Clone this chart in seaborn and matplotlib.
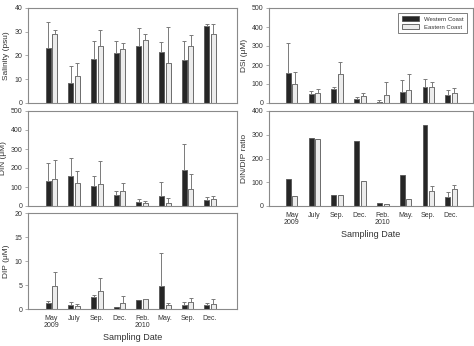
import numpy as np
import pandas as pd
import matplotlib
matplotlib.use("Agg")
import matplotlib.pyplot as plt
import seaborn as sns

dates = ["May\n2009", "July", "Sep.", "Dec.", "Feb.\n2010", "May.", "Sep.", "Dec."]
coasts = ["Western Coast", "Eastern Coast"]

sal_w = [23.0, 8.4, 18.5, 21.0, 23.8, 21.4, 18.3, 32.3]
sal_e = [29.0, 11.5, 24.2, 22.7, 26.6, 16.8, 24.0, 29.0]
sal_w_top = [34.0, 15.4, 25.9, 26.3, 31.5, 25.5, 25.9, 33.1]
sal_e_top = [30.8, 16.8, 30.8, 25.2, 29.0, 31.9, 28.7, 33.4]

din_w = [131, 158, 105, 58, 21, 54, 189, 32]
din_e = [140, 121, 118, 77, 16, 16, 88, 39]
din_w_top = [228, 253, 160, 81, 39, 128, 328, 47]
din_e_top = [240, 184, 239, 119, 25, 42, 168, 54]

dip_w = [1.2, 0.9, 2.5, 0.35, 1.9, 4.75, 0.9, 0.9]
dip_e = [4.7, 0.7, 3.75, 1.25, 2.0, 0.9, 1.4, 1.1]
dip_w_top = [1.6, 1.4, 3.0, np.nan, np.nan, 11.7, 1.45, 1.3]
dip_e_top = [7.7, 1.0, 6.5, 2.65, 2.1, 1.25, 2.35, 2.1]

dsi_w = [157, 47, 72, 23, 7, 58, 82, 42]
dsi_e = [100, 52, 154, 35, 42, 70, 86, 54]
dsi_w_top = [315, 63, 84, 33, 14, 122, 124, 68]
dsi_e_top = [161, 73, 215, 52, 108, 152, 112, 79]

ratio_w = [112, 285, 48, 275, 11, 129, 340, 39]
ratio_e = [44, 282, 46, 107, 8, 28, 63, 70]
ratio_w_top = [np.nan, np.nan, np.nan, np.nan, np.nan, np.nan, np.nan, 60]
ratio_e_top = [np.nan, np.nan, np.nan, np.nan, np.nan, np.nan, 86, 88]

sns.set_style("white")
plt.rcParams["font.family"] = ["Liberation Sans", "DejaVu Sans"]

W, H = 474, 346
fig = plt.figure(figsize=(W / 100, H / 100), dpi=100)

def rect(x0, y0, x1, y1):
    return [x0 / W, 1 - y1 / H, (x1 - x0) / W, (y1 - y0) / H]

txt = "#333333"
spine_c = "#8a8a8a"

def panel(box, w, e, wtop, etop, ylabel, yticks, xlim, show_x, legend=False):
    ax = fig.add_axes(rect(*box))
    df = pd.DataFrame({
        "date": list(range(len(dates))) * 2,
        "coast": [coasts[0]] * len(dates) + [coasts[1]] * len(dates),
        "value": list(w) + list(e),
    })
    sns.barplot(data=df, x="date", y="value", hue="coast", hue_order=coasts,
                palette=["#262626", "#ececec"], errorbar=None, width=0.58, gap=0.25,
                edgecolor="#555555", linewidth=0.6, ax=ax, legend=legend)
    for cont, tops in zip(ax.containers, [wtop, etop]):
        for bar, top in zip(cont, tops):
            if np.isnan(top):
                continue
            xc = bar.get_x() + bar.get_width() / 2
            hgt = bar.get_height()
            ax.errorbar([xc], [hgt], yerr=[[0], [top - hgt]], fmt="none",
                        ecolor="#7a7a7a", elinewidth=0.7, capsize=1.2, capthick=0.7)
    ax.set_xlim(*xlim)
    ax.set_ylim(yticks[0], yticks[-1])
    ax.set_yticks(yticks)
    ax.set_yticklabels([str(t) for t in yticks], fontsize=5, color=txt)
    ax.set_ylabel(ylabel, fontsize=6, color=txt, labelpad=3)
    ax.tick_params(axis="y", length=2, width=0.5, color=spine_c, pad=2, left=True)
    if show_x:
        ax.set_xticks(range(len(dates)))
        ax.set_xticklabels(dates, fontsize=5, color=txt, linespacing=1.1)
        ax.tick_params(axis="x", length=0, pad=4)
        ax.set_xlabel("Sampling Date", fontsize=6.5, color=txt, labelpad=3)
    else:
        ax.set_xticks([])
        ax.set_xlabel("")
    for s in ax.spines.values():
        s.set_color(spine_c)
        s.set_linewidth(0.8)
    if legend:
        lg = ax.legend(loc="upper right", fontsize=4.3, frameon=True, fancybox=False,
                       handlelength=2.9, handleheight=0.75, borderpad=0.6,
                       labelspacing=0.45, handletextpad=0.8, borderaxespad=0,
                       bbox_to_anchor=(0.97, 0.95))
        lg.get_frame().set_edgecolor("#444444")
        lg.get_frame().set_linewidth(0.6)
        for t in lg.get_texts():
            t.set_color(txt)
    return ax

xl_left = (-1.04, 8.19)
xl_right = (-0.99, 7.96)

panel((28, 8, 237, 103), sal_w, sal_e, sal_w_top, sal_e_top,
      "Salinity (psu)", [0, 10, 20, 30, 40], xl_left, False)
panel((28, 111, 237, 206), din_w, din_e, din_w_top, din_e_top,
      "DIN (\u03bcM)", [0, 100, 200, 300, 400, 500], xl_left, False)
panel((28, 213, 237, 309), dip_w, dip_e, dip_w_top, dip_e_top,
      "DIP (\u03bcM)", [0, 5, 10, 15, 20], xl_left, True)
panel((269, 8, 473, 103), dsi_w, dsi_e, dsi_w_top, dsi_e_top,
      "DSi (\u03bcM)", [0, 100, 200, 300, 400, 500], xl_right, False, legend=True)
panel((269, 111, 473, 206), ratio_w, ratio_e, ratio_w_top, ratio_e_top,
      "DIN/DIP ratio", [0, 100, 200, 300, 400], xl_right, True)

fig.savefig("out.png", dpi=100, facecolor="white")
